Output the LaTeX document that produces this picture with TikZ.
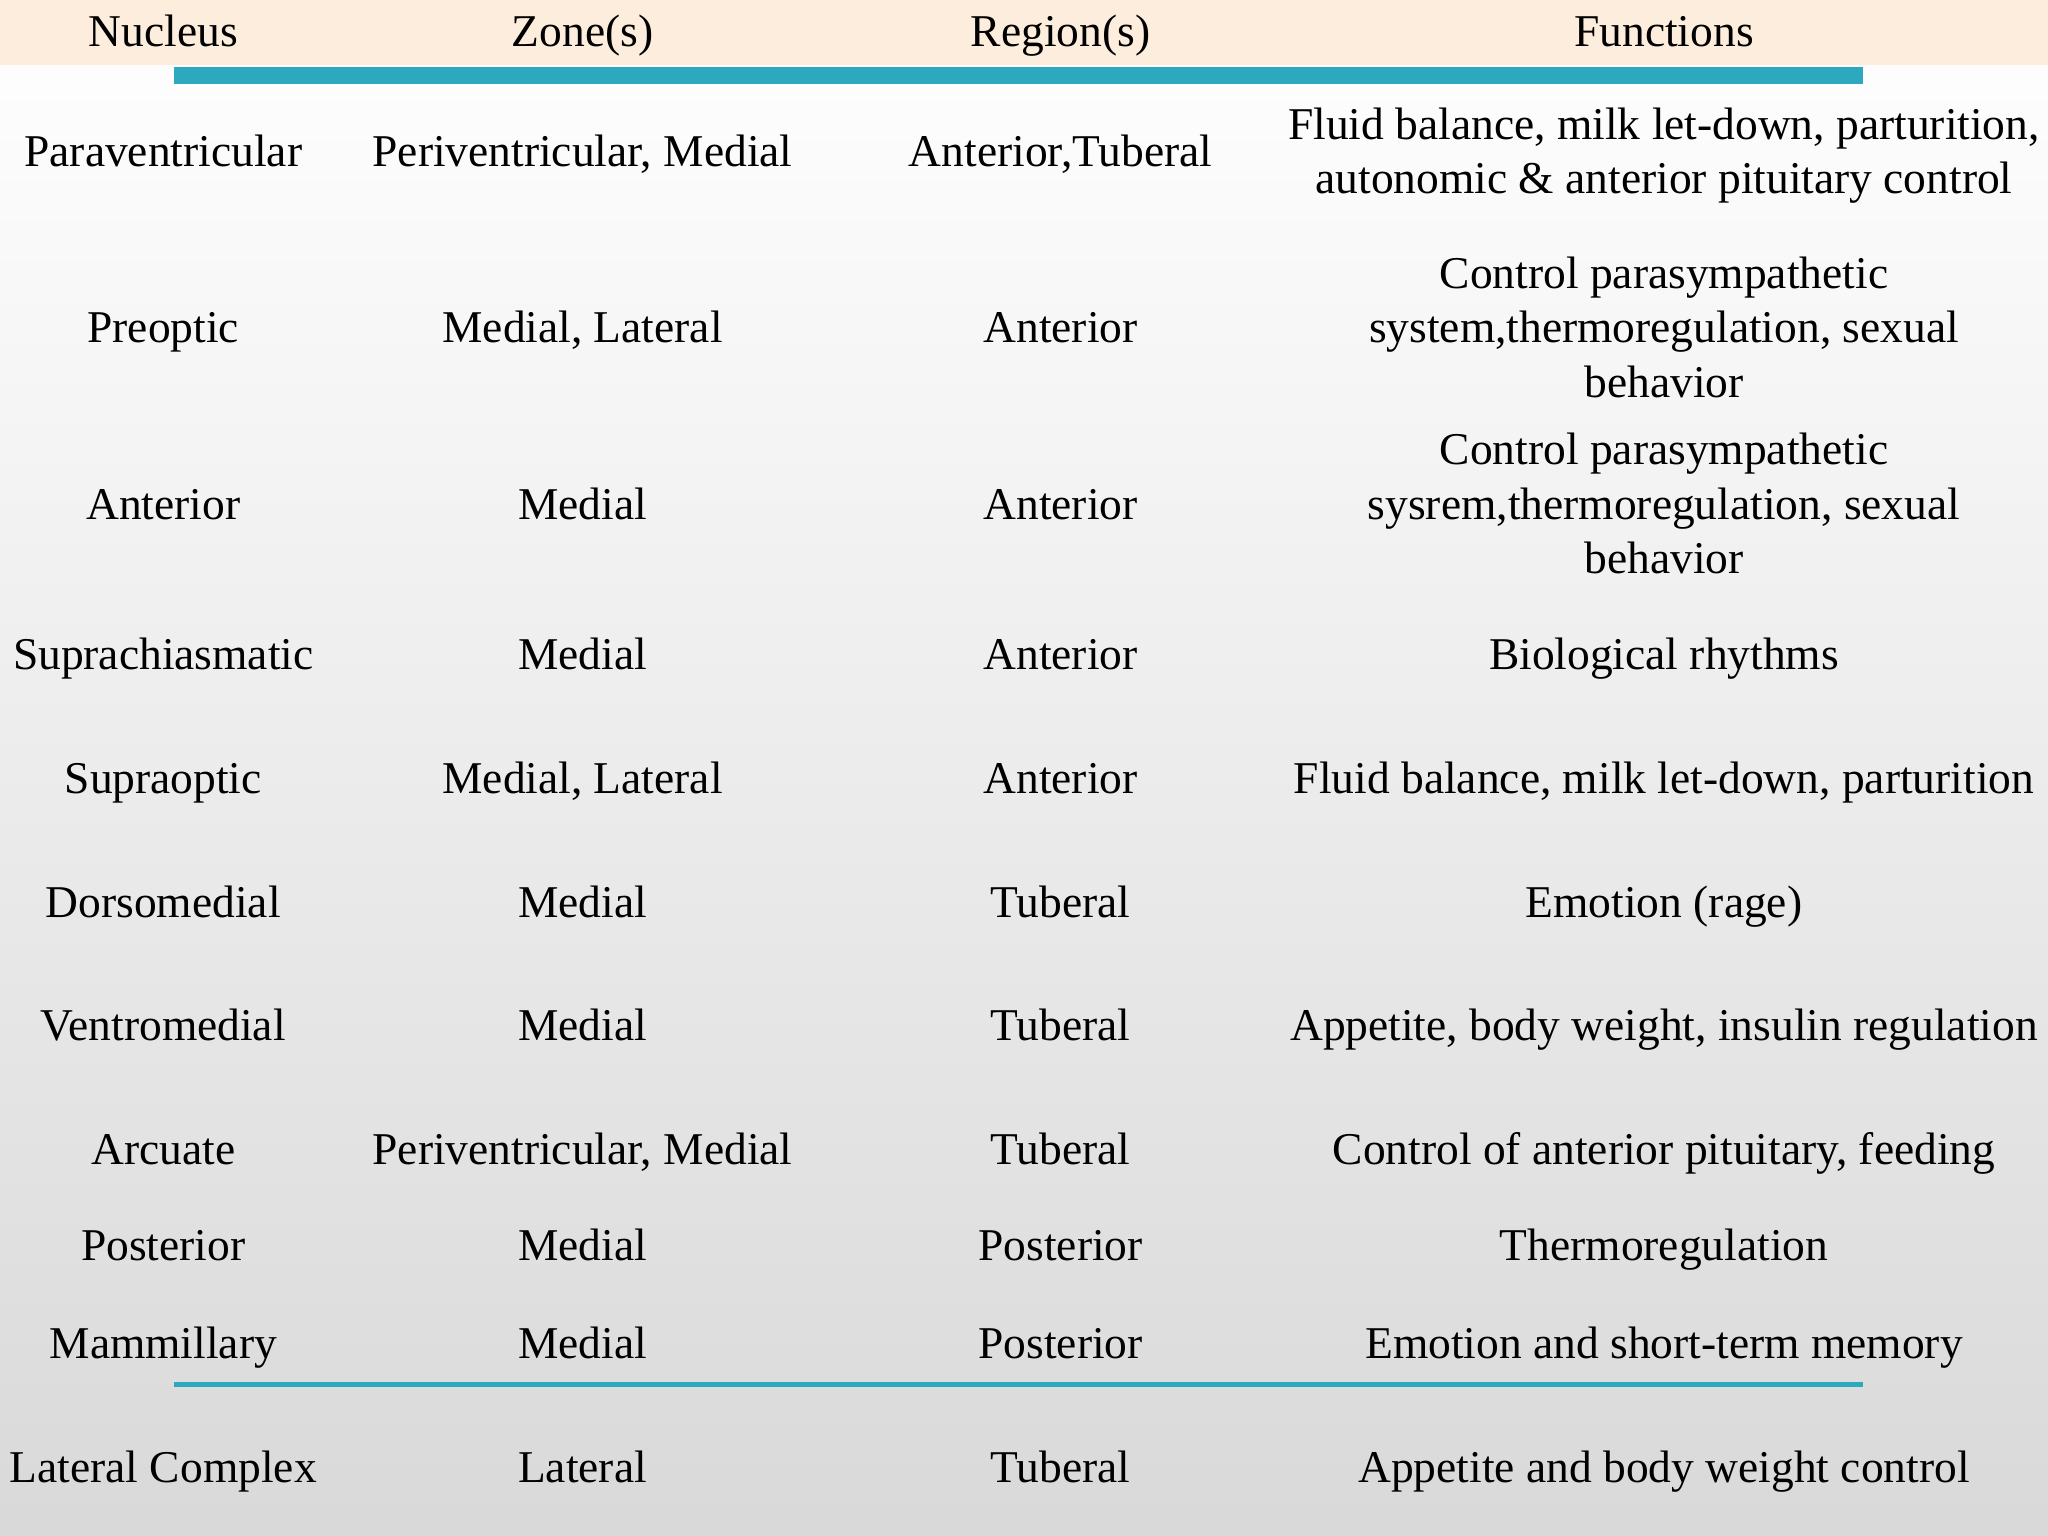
\documentclass[tikz,border=0pt]{standalone}
\usepackage{fontspec}
\setmainfont{Liberation Serif}
\definecolor{tealbar}{HTML}{2EA8BE}
\definecolor{peach}{HTML}{FDEDDD}
\begin{document}
\begin{tikzpicture}[x=0.01cm,y=-0.01cm,
  cell/.style={align=center,font=\fontsize{9.9}{11.9}\selectfont,text=black,inner sep=0pt}]
\useasboundingbox (0,0) rectangle (1568,1176);
\shade[top color=white,bottom color=black!15] (0,0) rectangle (1568,1176);
\fill[peach] (0,0) rectangle (1568,50);
\fill[tealbar] (133,51) rectangle (1426,64);
\draw[tealbar,line width=1.2pt] (133,1060) -- (1426,1060);
\node[cell] (h1) at (125,27) {\strut Nucleus};
\node[cell] (h2) at (446,27) {\strut Zone(s)};
\node[cell] (h3) at (812,27) {\strut Region(s)};
\node[cell] (h4) at (1274,27) {\strut Functions};
\foreach \y/\a/\b/\c/\d [count=\i] in {
 119/Paraventricular/{Periventricular, Medial}/{Anterior,Tuberal}/{\strut Fluid balance, milk let-down, parturition,\\\strut autonomic \& anterior pituitary control},
 254/Preoptic/{Medial, Lateral}/Anterior/{\strut Control parasympathetic\\\strut system,thermoregulation, sexual\\\strut behavior},
 389/Anterior/Medial/Anterior/{\strut Control parasympathetic\\\strut sysrem,thermoregulation, sexual\\\strut behavior},
 504/Suprachiasmatic/Medial/Anterior/{\strut Biological rhythms},
 599/Supraoptic/{Medial, Lateral}/Anterior/{\strut Fluid balance, milk let-down, parturition},
 694/Dorsomedial/Medial/Tuberal/{\strut Emotion (rage)},
 788/Ventromedial/Medial/Tuberal/{\strut Appetite, body weight, insulin regulation},
 883/Arcuate/{Periventricular, Medial}/Tuberal/{\strut Control of anterior pituitary, feeding},
 957/Posterior/Medial/Posterior/{\strut Thermoregulation},
 1032/Mammillary/Medial/Posterior/{\strut Emotion and short-term memory},
 1127/Lateral Complex/Lateral/Tuberal/{\strut Appetite and body weight control}}{
 \node[cell] (n\i) at (125,\y) {\strut\a};
 \node[cell] (z\i) at (446,\y) {\strut\b};
 \node[cell] (r\i) at (812,\y) {\strut\c};
 \node[cell] (f\i) at (1274,\y) {\d};
}
\end{tikzpicture}
\end{document}
